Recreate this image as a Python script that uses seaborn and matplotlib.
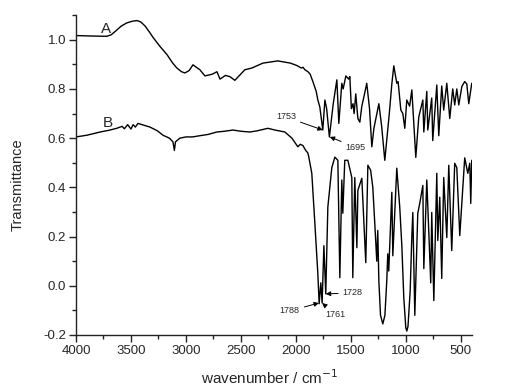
import numpy as np
import pandas as pd
import seaborn as sns
import matplotlib
matplotlib.use("Agg")
import matplotlib.pyplot as plt
from matplotlib.ticker import MultipleLocator

# ---------------- data ----------------
a_wn = [4000, 3850, 3720, 3680, 3640, 3590, 3540, 3490, 3445, 3410, 3370, 3330, 3300, 3240,
        3173, 3120, 3082, 3040, 3009, 2970, 2936,
        2873, 2827, 2760, 2718, 2690, 2640, 2600, 2555, 2464, 2400, 2300, 2164,
        2050, 1990, 1950, 1935, 1918, 1890, 1870, 1845, 1815, 1800, 1782, 1755, 1736, 1720, 1695,
        1660, 1627, 1609, 1582, 1570, 1545, 1520, 1509, 1495, 1480, 1470, 1455,
        1436, 1418, 1400, 1380, 1355, 1330, 1309, 1290, 1245, 1220, 1191, 1150,
        1127, 1109, 1082, 1070, 1045, 1027, 1009, 991, 965, 945, 909, 882, 845,
        836, 809, 800, 764, 755, 718, 700, 673, 655, 627, 600, 573, 555, 536,
        518, 490, 464, 445, 427, 400]
a_t = [1.017, 1.015, 1.014, 1.02, 1.035, 1.055, 1.068, 1.075, 1.078, 1.072, 1.055, 1.03, 1.01, 0.975,
       0.94, 0.905, 0.885, 0.87, 0.865, 0.875, 0.898,
       0.878, 0.853, 0.86, 0.87, 0.84, 0.855, 0.85, 0.835, 0.878, 0.885, 0.905, 0.914,
       0.905, 0.895, 0.885, 0.888, 0.878, 0.87, 0.86, 0.83, 0.79, 0.755, 0.727, 0.633, 0.755, 0.72, 0.605,
       0.74, 0.837, 0.66, 0.823, 0.80, 0.853, 0.84, 0.85, 0.72, 0.74, 0.70, 0.78,
       0.68, 0.665, 0.73, 0.77, 0.823, 0.72, 0.565, 0.64, 0.74, 0.65, 0.51, 0.70,
       0.82, 0.894, 0.823, 0.83, 0.714, 0.70, 0.64, 0.755, 0.73, 0.796, 0.522, 0.686, 0.755,
       0.625, 0.79, 0.633, 0.763, 0.59, 0.816, 0.61, 0.812, 0.714, 0.823, 0.68, 0.80, 0.735, 0.80,
       0.735, 0.81, 0.83, 0.82, 0.74, 0.823]

b_wn = [4000, 3900, 3780, 3700, 3630, 3580, 3560, 3530, 3500, 3480, 3460, 3436,
        3400, 3327, 3260, 3209, 3150, 3118, 3105, 3095, 3055, 3000, 2940, 2873,
        2800, 2718, 2650, 2573, 2500, 2418, 2350, 2255, 2180, 2100, 2036, 1982,
        1960, 1936, 1910, 1891, 1882, 1855, 1827, 1800, 1788, 1773, 1761, 1745,
        1728, 1709, 1673, 1645, 1618, 1600, 1582, 1573, 1555, 1527, 1491, 1482,
        1464, 1445, 1436, 1400, 1364, 1345, 1320, 1300, 1282, 1264, 1255, 1245,
        1230, 1209, 1190, 1173, 1164, 1155, 1127, 1118, 1082, 1055, 1036, 1018,
        1000, 991, 980, 960, 945, 936, 918, 891, 873, 845, 836, 809, 773, 764,
        745, 718, 709, 691, 673, 655, 627, 609, 582, 555, 536, 509, 464, 436,
        418, 409, 400]
b_t = [0.605, 0.612, 0.625, 0.632, 0.64, 0.648, 0.638, 0.655, 0.637, 0.655, 0.645, 0.66,
       0.655, 0.645, 0.63, 0.612, 0.60, 0.585, 0.55, 0.585, 0.60, 0.605, 0.605, 0.61,
       0.615, 0.625, 0.628, 0.633, 0.628, 0.625, 0.63, 0.64, 0.632, 0.625, 0.60, 0.565,
       0.575, 0.57, 0.55, 0.54, 0.523, 0.457, 0.253, 0.049, -0.073, 0.012, -0.07, 0.163,
       -0.033, 0.32, 0.48, 0.523, 0.51, 0.033, 0.43, 0.295, 0.51, 0.51, 0.44, 0.033,
       0.44, 0.155, 0.388, 0.437, 0.094, 0.49, 0.47, 0.40, 0.253, 0.10, 0.225, 0.02,
       -0.12, -0.155, -0.12, 0.02, 0.13, 0.06, 0.38, 0.122, 0.478, 0.32, 0.163, -0.05,
       -0.17, -0.184, -0.165, -0.02, 0.2, 0.298, -0.12, 0.294, 0.335, 0.408, 0.07, 0.43, 0.012, 0.298,
       -0.06, 0.457, 0.184, 0.36, 0.03, 0.44, 0.196, 0.49, 0.143, 0.498, 0.48, 0.204, 0.52, 0.457,
       0.498, 0.335, 0.51]

curve_labels = ["A", "B"]
peak_labels = ["1753", "1695", "1788", "1761", "1728"]
peak_xy = [(1755, 0.633), (1692, 0.605), (1790, -0.07), (1761, -0.07), (1728, -0.033)]
peak_text_xy = [(2091, 0.686), (1455, 0.563), (2055, -0.102), (1636, -0.118), (1482, -0.029)]

x_ticks = [4000, 3500, 3000, 2500, 2000, 1500, 1000, 500]
y_ticks = [-0.2, 0.0, 0.2, 0.4, 0.6, 0.8, 1.0]

# ---------------- plot ----------------
sns.set_style("ticks")
plt.rcParams["font.family"] = ["Liberation Sans", "DejaVu Sans"]

fig = plt.figure(figsize=(5.10, 3.88), dpi=100)
ax = fig.add_axes([0.149, 0.1366, 0.776, 0.8244])

dfa = pd.DataFrame({"wn": a_wn, "T": a_t})
dfb = pd.DataFrame({"wn": b_wn, "T": b_t})
sns.lineplot(data=dfa, x="wn", y="T", ax=ax, color="black", lw=1.0, sort=False)
sns.lineplot(data=dfb, x="wn", y="T", ax=ax, color="black", lw=1.0, sort=False)

ax.set_xlim(4000, 400)
ax.set_ylim(-0.2, 1.1)
ax.set_xticks(x_ticks)
ax.set_xticklabels([str(v) for v in x_ticks])
ax.set_yticks(y_ticks)
ax.set_yticklabels([f"{v:.1f}" for v in y_ticks])
ax.xaxis.set_minor_locator(MultipleLocator(250))
ax.yaxis.set_minor_locator(MultipleLocator(0.1))
ax.tick_params(which="major", direction="out", length=5, width=1, labelsize=9.5,
               color="#222222", pad=2)
ax.tick_params(which="minor", direction="out", length=3, width=1, color="#222222")
sns.despine(ax=ax)
for s in ["left", "bottom"]:
    ax.spines[s].set_linewidth(1.0)
    ax.spines[s].set_color("#222222")

ax.set_xlabel("wavenumber / cm$^{-1}$", fontsize=11)
ax.xaxis.label.set_va("center")
ax.xaxis.set_label_coords(0.49, -0.134)
ax.set_ylabel("Transmittance", fontsize=10.5)
ax.yaxis.label.set_va("center")
ax.yaxis.set_label_coords(-0.148, 0.47)

ax.text(3730, 1.043, curve_labels[0], fontsize=11, ha="center", va="center")
ax.text(3710, 0.66, curve_labels[1], fontsize=11, ha="center", va="center")

for lab, xy, xt in zip(peak_labels, peak_xy, peak_text_xy):
    ax.annotate(lab, xy=xy, xytext=xt, fontsize=6.5, ha="center", va="center",
                arrowprops=dict(arrowstyle="-|>", color="black", lw=0.7,
                                mutation_scale=7, shrinkA=1, shrinkB=0))

fig.savefig("out.png", dpi=100)
